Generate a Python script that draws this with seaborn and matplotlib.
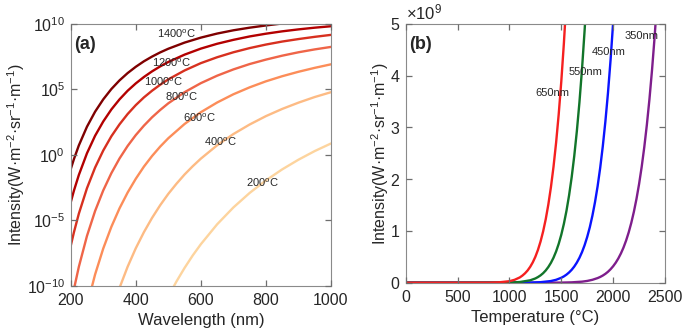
import matplotlib
matplotlib.use("Agg")
import matplotlib.pyplot as plt
from matplotlib.ticker import NullLocator, LogFormatterMathtext
import numpy as np
import seaborn as sns

# ---- panel (a): spectral intensity, log10 values ----
wl_200 = [475, 500, 525, 550, 575, 600, 650, 700, 750, 800, 850, 900, 950, 1000]
lg_200 = [-12.11, -10.83, -9.68, -8.64, -7.69, -6.83, -5.31, -4.02, -2.91, -1.95,
          -1.11, -0.37, 0.29, 0.87]

wl_400 = [325, 350, 375, 400, 425, 450, 475, 500, 525, 550, 575, 600, 650, 700,
          750, 800, 850, 900, 950, 1000]
lg_400 = [-12.05, -10.17, -8.55, -7.14, -5.91, -4.82, -3.85, -2.98, -2.21, -1.50,
          -0.87, -0.29, 0.73, 1.59, 2.32, 2.96, 3.51, 3.99, 4.42, 4.79]

wl_600 = [250, 275, 300, 325, 350, 375, 400, 425, 450, 475, 500, 550, 600, 650,
          700, 750, 800, 850, 900, 950, 1000]
lg_600 = [-11.54, -9.14, -7.16, -5.50, -4.09, -2.88, -1.83, -0.90, -0.09, 0.63,
          1.27, 2.36, 3.26, 4.00, 4.63, 5.16, 5.62, 6.01, 6.35, 6.65, 6.92]

wl_800 = [200, 210, 225, 250, 275, 300, 325, 350, 375, 400, 425, 450, 475, 500,
          550, 600, 650, 700, 750, 800, 850, 900, 950, 1000]
lg_800 = [-11.54, -10.26, -8.56, -6.20, -4.29, -2.72, -1.40, -0.28, 0.68, 1.51,
          2.23, 2.87, 3.43, 3.94, 4.79, 5.48, 6.05, 6.53, 6.94, 7.28, 7.58, 7.84,
          8.06, 8.25]

wl_1000 = [200, 210, 225, 250, 275, 300, 325, 350, 375, 400, 425, 450, 475, 500,
           550, 600, 650, 700, 750, 800, 850, 900, 950, 1000]
lg_1000 = [-6.97, -5.91, -4.50, -2.55, -0.97, 0.33, 1.42, 2.33, 3.12, 3.80, 4.39,
           4.90, 5.36, 5.77, 6.45, 7.01, 7.46, 7.84, 8.16, 8.43, 8.66, 8.85, 9.02,
           9.17]

wl_1200 = wl_1000
lg_1200 = [-3.64, -2.73, -1.54, 0.12, 1.46, 2.55, 3.47, 4.24, 4.90, 5.46, 5.95,
           6.38, 6.76, 7.10, 7.66, 8.12, 8.49, 8.79, 9.05, 9.26, 9.44, 9.59, 9.72,
           9.83]

wl_1400 = [200, 210, 225, 250, 275, 300, 325, 350, 375, 400, 425, 450, 475, 500,
           550, 600, 650, 700, 750, 800, 850, 900]
lg_1400 = [-1.10, -0.32, 0.72, 2.15, 3.30, 4.24, 5.03, 5.69, 6.25, 6.73, 7.15,
           7.51, 7.83, 8.11, 8.58, 8.96, 9.27, 9.52, 9.72, 9.89, 10.04, 10.16]

temps_a = ["200", "400", "600", "800", "1000", "1200", "1400"]
colors_a = ["#fdd49e", "#fdbb84", "#fc8d59", "#ef6548", "#d7301f", "#b30000", "#7f0000"]
# label anchor (wavelength nm, log10 intensity)
lab_x_a = [788, 659, 597, 539, 484, 511, 524]
lab_y_a = [-2.1, 0.96, 2.84, 4.44, 5.59, 7.0, 9.29]

# ---- panel (b): intensity vs temperature, values in units of 1e9 ----
t_350 = [0, 500, 1000, 1500, 1600, 1700, 1750, 1800, 1850, 1875, 1900, 1925, 1950,
         1975, 2000, 2025, 2050, 2075, 2100, 2125, 2150, 2175, 2200, 2225, 2250,
         2275, 2300, 2325, 2350, 2375, 2400, 2425]
I_350 = [0, 0, 0, 0.002, 0.007, 0.020, 0.034, 0.056, 0.089, 0.111, 0.138, 0.171,
         0.211, 0.260, 0.318, 0.387, 0.469, 0.566, 0.680, 0.815, 0.973, 1.157,
         1.371, 1.619, 1.906, 2.236, 2.616, 3.050, 3.545, 4.112, 4.753, 5.481]

t_450 = [0, 500, 1000, 1200, 1300, 1400, 1450, 1500, 1525, 1550, 1575, 1600, 1625,
         1650, 1675, 1700, 1725, 1750, 1775, 1800, 1825, 1850, 1875, 1900, 1925,
         1950, 1975, 2000, 2025]
I_450 = [0, 0, 0, 0.002, 0.010, 0.032, 0.056, 0.095, 0.122, 0.156, 0.198, 0.249,
         0.312, 0.389, 0.481, 0.592, 0.726, 0.885, 1.072, 1.295, 1.556, 1.861,
         2.218, 2.633, 3.112, 3.664, 4.300, 5.028, 5.860]

t_550 = [0, 500, 1000, 1100, 1200, 1250, 1275, 1300, 1325, 1350, 1375, 1400, 1425,
         1450, 1475, 1500, 1525, 1550, 1575, 1600, 1625, 1650, 1675, 1700, 1725, 1750]
I_550 = [0, 0, 0.003, 0.013, 0.046, 0.082, 0.109, 0.142, 0.184, 0.237, 0.303,
         0.384, 0.483, 0.604, 0.751, 0.927, 1.138, 1.389, 1.687, 2.037, 2.448,
         2.928, 3.486, 4.133, 4.879, 5.735]

t_650 = [0, 500, 800, 900, 1000, 1050, 1100, 1125, 1150, 1175, 1200, 1225, 1250,
         1275, 1300, 1325, 1350, 1375, 1400, 1425, 1450, 1475, 1500, 1525, 1550]
I_650 = [0, 0, 0.001, 0.007, 0.029, 0.056, 0.102, 0.137, 0.181, 0.236, 0.306,
         0.393, 0.501, 0.634, 0.796, 0.992, 1.227, 1.510, 1.845, 2.241, 2.707,
         3.253, 3.889, 4.627, 5.477]

waves_b = ["350", "450", "550", "650"]
colors_b = ["#7e1e8c", "#0a14ff", "#12752a", "#f52020"]
lab_x_b = [2278, 1960, 1738, 1410]
lab_y_b = [4.77, 4.45, 4.08, 3.67]

sns.set_theme(style="ticks")
plt.rcParams["font.family"] = ["Liberation Sans", "DejaVu Sans"]
plt.rcParams.update({
    "mathtext.fontset": "custom",
    "mathtext.rm": "Liberation Sans",
    "mathtext.it": "Liberation Sans:italic",
    "mathtext.bf": "Liberation Sans:bold",
    "axes.unicode_minus": False,
    "axes.edgecolor": "#8a8a8a",
    "axes.linewidth": 0.8,
    "axes.axisbelow": False,
    "text.color": "#262626",
    "axes.labelcolor": "#262626",
})

fig = plt.figure(figsize=(6.85, 3.34), dpi=100)
ax1 = fig.add_axes([0.1032, 0.1446, 0.380, 0.7835])
ax2 = fig.add_axes([0.5923, 0.1536, 0.3785, 0.7746])

# panel (a)
ax1.set_yscale("log")
curves_a = [(wl_200, lg_200), (wl_400, lg_400), (wl_600, lg_600), (wl_800, lg_800),
            (wl_1000, lg_1000), (wl_1200, lg_1200), (wl_1400, lg_1400)]
for (wl, lg), col in zip(curves_a, colors_a):
    sns.lineplot(x=wl, y=10.0 ** np.array(lg), ax=ax1, color=col, lw=1.7,
                 estimator=None, sort=False)
for t, x, y in zip(temps_a, lab_x_a, lab_y_a):
    ax1.text(x, 10.0 ** y, t + r"$^{\rm o}$C", ha="center", va="center", fontsize=8)
ax1.set_xlim(200, 1000)
ax1.set_ylim(1e-10, 1e10)
ax1.set_xticks([200, 400, 600, 800, 1000])
ax1.set_yticks([1e-10, 1e-5, 1, 1e5, 1e10])
ax1.yaxis.set_major_formatter(LogFormatterMathtext())
ax1.yaxis.set_minor_locator(NullLocator())
ax1.set_xlabel("Wavelength (nm)", fontsize=12, labelpad=4)
ax1.set_ylabel("Intensity(W·m$^{-2}$·sr$^{-1}$·m$^{-1}$)", fontsize=11.5, labelpad=0)
ax1.text(0.015, 0.955, "(a)", transform=ax1.transAxes, fontsize=13,
         fontweight="bold", ha="left", va="top")

# panel (b)
curves_b = [(t_350, I_350), (t_450, I_450), (t_550, I_550), (t_650, I_650)]
for (t, v), col in zip(curves_b, colors_b):
    sns.lineplot(x=t, y=np.array(v) * 1e9, ax=ax2, color=col, lw=1.7,
                 estimator=None, sort=False)
for w, x, y in zip(waves_b, lab_x_b, lab_y_b):
    ax2.text(x, y * 1e9, w + "nm", ha="center", va="center", fontsize=8)
ax2.set_xlim(0, 2500)
ax2.set_ylim(0, 5e9)
ax2.set_xticks([0, 500, 1000, 1500, 2000, 2500])
ax2.set_yticks([0, 1e9, 2e9, 3e9, 4e9, 5e9])
ax2.ticklabel_format(axis="y", style="sci", scilimits=(9, 9), useMathText=True)
ax2.yaxis.get_offset_text().set_fontsize(12)
ax2.set_xlabel("Temperature (°C)", fontsize=12, labelpad=4)
ax2.set_ylabel("Intensity(W·m$^{-2}$·sr$^{-1}$·m$^{-1}$)", fontsize=11.5, labelpad=-1)
ax2.text(0.015, 0.955, "(b)", transform=ax2.transAxes, fontsize=13,
         fontweight="bold", ha="left", va="top")

for ax in (ax1, ax2):
    ax.tick_params(which="major", direction="in", length=4, width=0.9,
                   color="#6e6e6e", labelcolor="#262626", labelsize=11.5,
                   top=True, right=True, bottom=True, left=True)
    ax.tick_params(axis="x", pad=5)
    ax.tick_params(axis="y", pad=4)

fig.savefig("out.png", dpi=100, facecolor="white")
